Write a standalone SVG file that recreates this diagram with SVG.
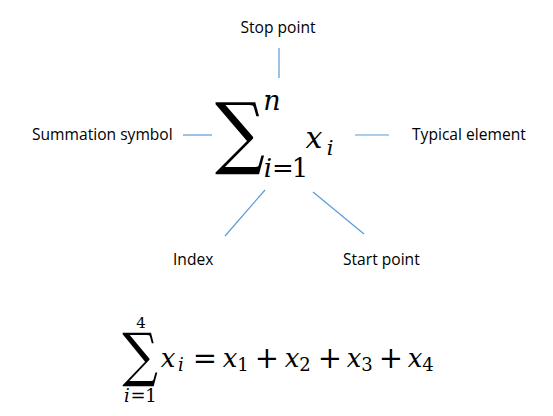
<svg xmlns="http://www.w3.org/2000/svg" width="553" height="416" viewBox="0 0 553 416">
<style>
.lbl{font-family:"Open Sans","Liberation Sans",sans-serif;font-size:15.6px;fill:#000}
.conn line{stroke:#5b9bd5;stroke-width:1.2}
.m{font-family:"DejaVu Serif","Liberation Serif",serif;font-style:italic;fill:#000;text-anchor:middle}
.mu{font-family:"DejaVu Serif","Liberation Serif",serif;fill:#000;text-anchor:middle}
.op{font-family:"DejaVu Serif","Liberation Serif",serif;fill:#000;text-anchor:middle;font-size:29px}
.sig{font-family:"DejaVu Serif","Liberation Serif",serif;fill:#000;text-anchor:middle}
</style>
<rect width="553" height="416" fill="#fff"/>
<g id="formula-main">
<text class="sig" font-size="70" transform="translate(240,158.5) scale(1,1.13)">∑</text>
<text class="m" x="272" y="110" font-size="27">n</text>
<text class="m" x="314" y="148" font-size="30">x</text>
<text class="m" x="330" y="155" font-size="21">i</text>
<text class="m" x="268" y="177" font-size="26">i</text>
<text class="mu" x="283" y="177" font-size="26">=</text>
<text class="mu" x="300" y="177" font-size="26">1</text>
</g>
<g id="stop-point"><text class="lbl" x="278" y="33" text-anchor="middle">Stop point</text></g>
<g id="summation-symbol"><text class="lbl" x="32" y="140">Summation symbol</text></g>
<g id="typical-element"><text class="lbl" x="412" y="140">Typical element</text></g>
<g id="index"><text class="lbl" x="173" y="265">Index</text></g>
<g id="start-point"><text class="lbl" x="343" y="265">Start point</text></g>
<g class="conn" id="connectors">
<line x1="279" y1="48" x2="279" y2="78"/>
<line x1="183" y1="135" x2="212" y2="135"/>
<line x1="355" y1="135" x2="389" y2="135"/>
<line x1="265" y1="190" x2="225" y2="236"/>
<line x1="313" y1="192" x2="364" y2="234"/>
</g>
<g id="formula-example">
<text class="sig" font-size="50" transform="translate(140,375) scale(1,1.18)">∑</text>
<text class="mu" x="141" y="328" font-size="15">4</text>
<text class="m" x="127" y="402" font-size="18">i</text>
<text class="mu" x="138" y="402" font-size="18">=</text>
<text class="mu" x="151" y="402" font-size="18">1</text>
<g font-size="26">
<text class="m" x="168" y="367">x</text>
<text class="m" x="181" y="371" font-size="18">i</text>
<text class="op" x="205" y="368">=</text>
<text class="m" x="230" y="367">x</text>
<text class="mu" x="243" y="371" font-size="18">1</text>
<text class="op" x="267" y="368">+</text>
<text class="m" x="292" y="367">x</text>
<text class="mu" x="305" y="371" font-size="18">2</text>
<text class="op" x="330" y="368">+</text>
<text class="m" x="354" y="367">x</text>
<text class="mu" x="367" y="371" font-size="18">3</text>
<text class="op" x="391" y="368">+</text>
<text class="m" x="415" y="367">x</text>
<text class="mu" x="428" y="371" font-size="18">4</text>
</g>
</g>
</svg>
